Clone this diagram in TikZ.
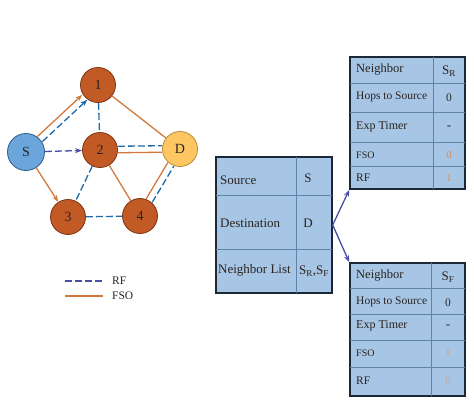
\documentclass[tikz,border=0pt]{standalone}
\usepackage{fontspec}
\setmainfont{Liberation Serif}
\usetikzlibrary{positioning,arrows.meta}

\definecolor{fsoc}{HTML}{D27A3C}
\definecolor{rfc}{HTML}{1F69A6}
\definecolor{ctrl}{HTML}{4A4EA6}
\definecolor{relay}{HTML}{C25A26}
\definecolor{relayb}{HTML}{7C3412}
\definecolor{srcc}{HTML}{6AA6DC}
\definecolor{srcb}{HTML}{2F5B88}
\definecolor{dstc}{HTML}{FDC663}
\definecolor{dstb}{HTML}{B98A35}
\definecolor{cell}{HTML}{A7C5E5}
\definecolor{frame}{HTML}{1B2838}
\definecolor{rule}{HTML}{5E82A8}
\definecolor{ink}{HTML}{2A2420}
\definecolor{bitc}{HTML}{E08A50}
\definecolor{bitf}{HTML}{C9A68C}

\tikzset{
  hop/.style={circle, draw=relayb, fill=relay, line width=0.8pt, minimum size=35pt,
    inner sep=0pt, font=\fontsize{14}{16}\selectfont, text=ink},
  fso/.style={draw=fsoc, line width=1.3pt},
  rf/.style={draw=rfc, line width=1.3pt, dash pattern=on 7pt off 3pt},
  tip/.style={-{Stealth[length=7pt,width=5pt]}},
  twin/.style={shorten <=18pt, shorten >=18pt},
  tbl/.style={draw=frame, fill=cell, line width=1.4pt, inner sep=0pt},
  cellrule/.style={draw=rule, line width=0.6pt},
  lbl/.style={anchor=west, inner sep=0pt, text=ink, font=\fontsize{13}{15}\selectfont},
  val/.style={inner sep=0pt, text=ink, font=\fontsize{13}{15}\selectfont},
  small/.style={anchor=west, inner sep=0pt, text=ink, font=\fontsize{11.5}{13}\selectfont},
  tiny/.style={anchor=west, inner sep=0pt, text=ink, font=\fontsize{10}{12}\selectfont},
}

\begin{document}
\begin{tikzpicture}[x=1pt, y=-1pt]
      \useasboundingbox (0,0) rectangle (474,407);
      % network
      \node[hop] (n1) at (98,85) {1};
      \node[hop] (n2) at (100,150) {2};
      \node[hop] (n3) at (68,217) {3};
      \node[hop] (n4) at (140,216) {4};
      \node[hop, fill=srcc, draw=srcb, minimum size=37pt] (src) at (26,152) {S};
      \node[hop, fill=dstc, draw=dstb] (dst) at (180,149) {D};
      \draw[fso, tip, twin, shorten <=19pt] ([shift={(-2.5,-2.5)}]src.center) -- ([shift={(-2.5,-2.5)}]n1.center);
      \draw[rf, tip, twin, shorten <=19pt] ([shift={(2.5,2.5)}]src.center) -- ([shift={(2.5,2.5)}]n1.center);
      \draw[rf, draw=ctrl, tip] (src) -- (n2);
      \draw[fso, tip] (src) -- (n3);
      \draw[rf] (n1) -- (n2);
      \draw[fso] (n1) -- (dst);
      \draw[rf, twin] ([yshift=3.5pt]n2.center) -- ([yshift=3.5pt]dst.center);
      \draw[fso, twin] ([yshift=-3pt]n2.center) -- ([yshift=-3pt]dst.center);
      \draw[rf] (n2) -- (n3);
      \draw[fso] (n2) -- (n4);
      \draw[rf] (n3) -- (n4);
      \draw[fso, twin] ([shift={(-3,-1.8)}]n4.center) -- ([shift={(-3,-1.8)}]dst.center);
      \draw[rf, twin] ([shift={(3,1.8)}]n4.center) -- ([shift={(3,1.8)}]dst.center);
      % legend
      \coordinate (rfa) at (65,281);
      \coordinate (rfb) at (103,281);
      \coordinate (fsoa) at (65,296);
      \coordinate (fsob) at (103,296);
      \draw[rf, draw=ctrl] (rfa) -- (rfb);
      \draw[fso] (fsoa) -- (fsob);
      \node[small, right=9pt of rfb] (rflab) {RF};
      \node[small, right=9pt of fsob] (fsolab) {FSO};
      % route request table
      \node[tbl, minimum width=116pt, minimum height=136pt] (rreq) at (274,225) {};
      \draw[cellrule] (216,195) -- (332,195);
      \draw[cellrule] (216,249) -- (332,249);
      \draw[cellrule] (296,157) -- (296,293);
      \node[lbl] (srcname) at (220,180) {Source};
      \node[val] (srcval) at (308,178) {S};
      \node[lbl] (dstname) at (220,223) {Destination};
      \node[val] (dstval) at (308,223) {D};
      \node[lbl] (nbrname) at (218,270) {Neighbor List};
      \node[val] (nbrval) at (314,271) {S$_{\mathrm{R}}$,S$_{\mathrm{F}}$};
      % neighbor table, RF
      \node[tbl, minimum width=115pt, minimum height=132pt] (nbrR) at (407.5,123) {};
      \foreach \y in {83,112,142,166}
        \draw[cellrule] (350,\y) -- (465,\y);
      \draw[cellrule] (433,57) -- (433,189);
      \node[lbl, font=\fontsize{12.5}{14}\selectfont] (rname) at (356,70) {Neighbor};
      \node[val] (rval) at (449,71) {S$_{\mathrm{R}}$};
      \node[small] (rhops) at (356,97) {Hops to Source};
      \node[val, font=\fontsize{11.5}{13}\selectfont] (rhopsv) at (449,98) {0};
      \node[small, font=\fontsize{12}{14}\selectfont] (rexp) at (356,127) {Exp Timer};
      \node[val] (rexpv) at (449,128) {-};
      \node[tiny] (rfso) at (356,155) {FSO};
      \node[val, text=bitc, font=\fontsize{10.5}{12}\selectfont] (rfsov) at (449,155) {0};
      \node[small] (rrf) at (356,178) {RF};
      \node[val, text=bitc, font=\fontsize{10.5}{12}\selectfont] (rrfv) at (449,178) {1};
      % neighbor table, FSO
      \node[tbl, minimum width=115pt, minimum height=133pt] (nbrF) at (407.5,329.5) {};
      \foreach \y in {288,314,340,367}
        \draw[cellrule] (350,\y) -- (465,\y);
      \draw[cellrule] (431,263) -- (431,396);
      \node[lbl, font=\fontsize{12.5}{14}\selectfont] (fname) at (356,276) {Neighbor};
      \node[val] (fval) at (448,277) {S$_{\mathrm{F}}$};
      \node[small] (fhops) at (356,302) {Hops to Source};
      \node[val, font=\fontsize{11.5}{13}\selectfont] (fhopsv) at (448,303) {0};
      \node[small, font=\fontsize{12}{14}\selectfont] (fexp) at (356,326) {Exp Timer};
      \node[val] (fexpv) at (448,327) {-};
      \node[tiny] (ffso) at (356,353) {FSO};
      \node[val, text=bitf, font=\fontsize{10.5}{12}\selectfont] (ffsov) at (448,353) {1};
      \node[small] (frf) at (356,381) {RF};
      \node[val, text=bitf, font=\fontsize{10.5}{12}\selectfont] (frfv) at (448,381) {0};
      % links between tables
      \draw[tip, draw=ctrl, line width=1.3pt] (rreq.east) -- (nbrR.south west);
      \draw[tip, draw=ctrl, line width=1.3pt] (rreq.east) -- (nbrF.north west);
\end{tikzpicture}
\end{document}
